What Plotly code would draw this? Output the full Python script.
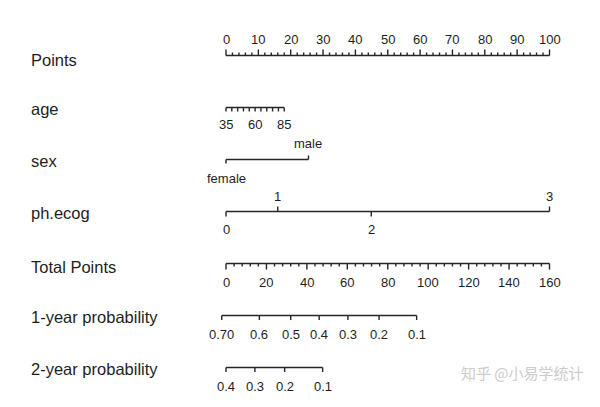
import plotly.graph_objects as go

# --- nomogram data (positions in points / total points) ---
row_names = ["Points", "age", "sex", "ph.ecog", "Total Points",
             "1-year probability", "2-year probability"]
row_name_shift = [-4, -1, -1, -1, -3, -1, -1]

points_ticks = list(range(0, 101, 2))
points_labels = [0, 10, 20, 30, 40, 50, 60, 70, 80, 90, 100]

age_values = [35, 40, 45, 50, 55, 60, 65, 70, 75, 80, 85]
age_points = [0, 1.8, 3.6, 5.4, 7.2, 9.0, 10.8, 12.6, 14.4, 16.2, 18.0]
age_labels = [35, 60, 85]

sex_levels = ["female", "male"]
sex_points = [0, 25.5]

ecog_levels = ["0", "1", "2", "3"]
ecog_points = [0, 16.0, 44.9, 100]

total_ticks = list(range(0, 161, 4))
total_labels = [0, 20, 40, 60, 80, 100, 120, 140, 160]

prob1_labels = ["0.70", "0.6", "0.5", "0.4", "0.3", "0.2", "0.1"]
prob1_total = [-2.1, 16.5, 32.0, 46.1, 60.3, 75.7, 94.3]

prob2_labels = ["0.4", "0.3", "0.2", "0.1"]
prob2_total = [0, 14.3, 29.0, 47.8]

# --- layout helpers ---
W, H = 600, 407
OFF = 8                 # page body margin offset
PX_ROW = 52.0           # pixels between rows
TOP = 55.5 - OFF        # pixel y of first row
X0, X100 = 226.0 - OFF, 549.5 - OFF
ppp = (X100 - X0) / 100.0
xr = [-X0 / ppp, (W - X0) / ppp]
xr2 = [v * 1.6 for v in xr]
yr = [-(H - TOP) / PX_ROW, TOP / PX_ROW]

LINE = "#262626"
TXT = "#1e1e1e"
FONT = "Arial, Liberation Sans, sans-serif"

fig = go.Figure()
annots = []


def add_scale(row, xs, dirs, lens, axis="x"):
    """horizontal line plus ticks; dir +1 = up, -1 = down"""
    y = -row
    lx, ly = [min(xs), max(xs), None], [y, y, None]
    for x, d, l in zip(xs, dirs, lens):
        lx += [x, x, None]
        ly += [y, y + d * l / PX_ROW, None]
    fig.add_trace(go.Scatter(x=lx, y=ly, mode="lines", xaxis=axis,
                             line=dict(color=LINE, width=1.4),
                             hoverinfo="skip", showlegend=False))


def add_label(row, x, text, shift, axis="x", size=13):
    annots.append(dict(x=x, y=-row, xref=axis, yref="y", text=str(text),
                       showarrow=False, yshift=shift,
                       font=dict(size=size, color=TXT, family=FONT)))


# Points
add_scale(0, points_ticks, [1] * len(points_ticks),
          [6 if t % 10 == 0 else 3 for t in points_ticks])
for v in points_labels:
    add_label(0, v, v, 16)

# age
add_scale(1, age_points, [-1] * len(age_points), [4] * len(age_points))
for a, p in zip(age_values, age_points):
    if a in age_labels:
        add_label(1, p, a, -17)

# sex
add_scale(2, sex_points, [-1, 1], [4, 4])
add_label(2, sex_points[0], sex_levels[0], -19)
add_label(2, sex_points[1], sex_levels[1], 16)

# ph.ecog
ecog_dirs = [-1, 1, -1, 1]
add_scale(3, ecog_points, ecog_dirs, [5] * 4)
for lev, p, d in zip(ecog_levels, ecog_points, ecog_dirs):
    add_label(3, p, lev, 15 if d > 0 else -18)

# Total Points
add_scale(4, total_ticks, [-1] * len(total_ticks),
          [6 if t % 20 == 0 else 3 for t in total_ticks], axis="x2")
for v in total_labels:
    add_label(4, v, v, -19, axis="x2")

# 1-year probability
add_scale(5, prob1_total, [-1] * len(prob1_total), [4.5] * len(prob1_total), axis="x2")
for lab, p in zip(prob1_labels, prob1_total):
    add_label(5, p, lab, -19, axis="x2")

# 2-year probability
add_scale(6, prob2_total, [-1] * len(prob2_total), [4.5] * len(prob2_total), axis="x2")
for lab, p in zip(prob2_labels, prob2_total):
    add_label(6, p, lab, -19, axis="x2")

# row names on the left
for i, name in enumerate(row_names):
    annots.append(dict(x=(29 - OFF) / W, y=-i, xref="paper", yref="y", text=name,
                       xanchor="left", showarrow=False, yshift=row_name_shift[i],
                       font=dict(size=16.5, color=TXT, family=FONT)))

# watermark
annots.append(dict(x=(586 - OFF) / W, y=1 - (385 - OFF) / H, xref="paper", yref="paper",
                   text="知乎 @小易学统计", xanchor="right", showarrow=False,
                   font=dict(size=15, color="#cccccc", family="Noto Sans CJK SC")))

fig.update_layout(
    width=W, height=H,
    margin=dict(l=0, r=0, t=0, b=0),
    paper_bgcolor="white", plot_bgcolor="white",
    xaxis=dict(range=xr, visible=False, fixedrange=True),
    xaxis2=dict(range=xr2, visible=False, overlaying="x", fixedrange=True),
    yaxis=dict(range=yr, visible=False, fixedrange=True),
    annotations=annots,
    showlegend=False,
)

fig.write_html("out.html")
